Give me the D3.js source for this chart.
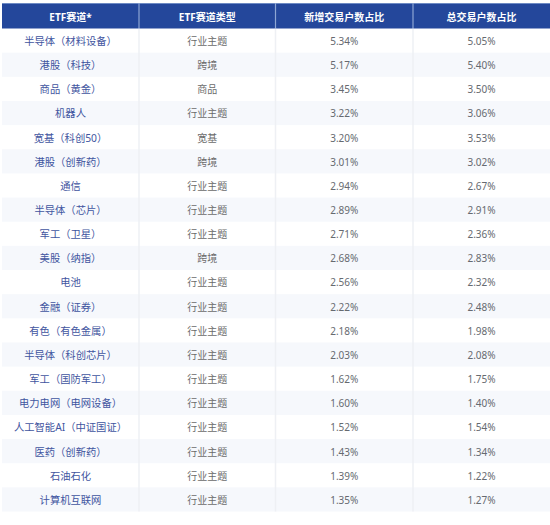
<!DOCTYPE html>
<html><head><meta charset="utf-8">
<script src="https://cdn.jsdelivr.net/npm/d3@7"></script>
<style>html,body{margin:0;padding:0;background:#fff}svg{display:block}
text{font-family:"Noto Sans","Noto Sans CJK SC",sans-serif}</style></head>
<body><svg id="c" width="550" height="525"></svg>
<script>
const headers=["ETF赛道*","ETF赛道类型","新增交易户数占比","总交易户数占比"];
const tracks=["半导体（材料设备）","港股（科技）","商品（黄金）","机器人","宽基（科创50）","港股（创新药）","通信","半导体（芯片）","军工（卫星）","美股（纳指）","电池","金融（证券）","有色（有色金属）","半导体（科创芯片）","军工（国防军工）","电力电网（电网设备）","人工智能AI（中证国证）","医药（创新药）","石油石化","计算机互联网"];
const types=["行业主题","跨境","商品","行业主题","宽基","跨境","行业主题","行业主题","行业主题","跨境","行业主题","行业主题","行业主题","行业主题","行业主题","行业主题","行业主题","行业主题","行业主题","行业主题"];
const newShare=["5.34%","5.17%","3.45%","3.22%","3.20%","3.01%","2.94%","2.89%","2.71%","2.68%","2.56%","2.22%","2.18%","2.03%","1.62%","1.60%","1.52%","1.43%","1.39%","1.35%"];
const totalShare=["5.05%","5.40%","3.50%","3.06%","3.53%","3.02%","2.67%","2.91%","2.36%","2.83%","2.32%","2.48%","1.98%","2.08%","1.75%","1.40%","1.54%","1.34%","1.22%","1.27%"];

const svg=d3.select("#c");
const colEdges=[2,139,275.5,413,550];
const y=d3.scaleBand().domain(d3.range(tracks.length)).range([28.5,511.5]);
const cx=i=>(colEdges[i]+colEdges[i+1])/2;
const columns=[tracks,types,newShare,totalShare];
const colors=["#3f55a0","#6b6b6b","#666a70","#666a70"];
const sizes=[10.3,10,10,10];

svg.append("g").selectAll("rect").data(d3.range(tracks.length).filter(i=>i%2==1)).join("rect")
 .attr("x",2).attr("width",548).attr("y",i=>y(i)).attr("height",y.bandwidth()).attr("fill","#f6f8fc");

svg.append("rect").attr("x",2).attr("y",3.5).attr("width",548).attr("height",25).attr("fill","#24479b");
svg.append("rect").attr("x",2).attr("y",3).attr("width",548).attr("height",1).attr("fill","#6d8ac4");

svg.append("g").selectAll("line").data(colEdges.slice(1,4)).join("line")
 .attr("x1",d=>d).attr("x2",d=>d).attr("y1",28.5).attr("y2",511.5).attr("stroke","#eef0f4").attr("stroke-width",1.5);
svg.append("g").selectAll("line").data(colEdges.slice(1,4)).join("line")
 .attr("x1",d=>d).attr("x2",d=>d).attr("y1",3).attr("y2",28.5).attr("stroke","#8ea6d4").attr("stroke-width",1.2);

svg.append("g").selectAll("text").data(headers).join("text")
 .attr("x",(d,i)=>cx(i)).attr("y",16.5).attr("text-anchor","middle").attr("dominant-baseline","central")
 .attr("fill","#fff").attr("font-size",10).attr("font-weight",700).text(d=>d);

columns.forEach((col,c)=>{
 svg.append("g").selectAll("text").data(col).join("text")
  .attr("x",cx(c)).attr("y",(d,i)=>y(i)+y.bandwidth()/2+0.4).attr("text-anchor","middle").attr("dominant-baseline","central")
  .attr("fill",colors[c]).attr("font-size",sizes[c]).text(d=>d);
});
</script></body></html>
